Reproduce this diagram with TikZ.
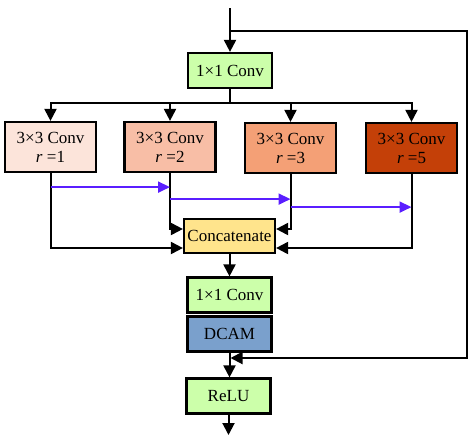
\documentclass[tikz,border=0pt]{standalone}
\usepackage{fontspec}
\setmainfont{Liberation Serif}
\usetikzlibrary{shapes, arrows.meta, positioning}
\definecolor{convgreen}{RGB}{204,255,170}
\definecolor{rateA}{RGB}{252,228,218}
\definecolor{rateB}{RGB}{248,190,166}
\definecolor{rateC}{RGB}{244,160,118}
\definecolor{rateD}{RGB}{196,64,8}
\definecolor{catyellow}{RGB}{255,228,140}
\definecolor{dcamblue}{RGB}{122,160,204}
\definecolor{skipblue}{RGB}{90,30,255}
\tikzstyle{block} = [rectangle, draw, line width=2.2pt, fill=convgreen,
	text centered, minimum width=84pt, minimum height=35pt, inner sep=0pt]
\tikzstyle{rate} = [block, align=center, minimum width=91pt, minimum height=50pt]
\tikzstyle{arr} = [line width=2pt, -{Triangle[length=12pt,width=12pt]}]
\tikzstyle{skip} = [line width=2pt, draw=skipblue, -{Triangle[length=12pt,width=11pt]}]

\begin{document}
\begin{tikzpicture}[x=1pt, y=1pt, node distance = 2cm, auto,
	font=\fontsize{17}{19}\selectfont]
		\useasboundingbox (0,0) rectangle (474,-445);
		%Place node
		\node [block] (convA) at (230,-70.5) {1×1 Conv};
		\node [rate, fill=rateA] (rateA) at (50.5,-147) {3×3 Conv\\\textit{r} =1};
		\node [rate, fill=rateB] (rateB) at (170,-147) {3×3 Conv\\\textit{r} =2};
		\node [rate, fill=rateC] (rateC) at (290.5,-148) {3×3 Conv\\\textit{r} =3};
		\node [rate, fill=rateD] (rateD) at (411.5,-148) {3×3 Conv\\\textit{r} =5};
		\node [block, fill=catyellow, minimum width=91pt, minimum height=34pt] (cat) at (229.5,-236) {Concatenate};
		\node [block, below of=cat, node distance=59pt] (convB) {1×1 Conv};
		\node [block, fill=dcamblue, below of=convB, node distance=39pt] (dcam) {DCAM};
		\node [block, below of=dcam, node distance=62pt, xshift=-1pt] (relu) {ReLU};
		\coordinate (in) at (230,-8);
		\coordinate (split) at (230,-103);
		\coordinate (fbA) at (467,-31);
		\coordinate (fbB) at (467,-358);
		\coordinate (out) at (229,-435);

		%Draw edges
		\draw [arr] (in) -- (convA);
		\draw [line width=2pt] (convA) -- (split);
		\draw [arr] (split) -| (rateA.north);
		\draw [arr] (split) -| (rateB.north);
		\draw [arr] (split) -| (rateC.north);
		\draw [arr] (split) -| (rateD.north);
		\draw [arr] (in |- fbA) -- (fbA) -- (fbB) -- ([xshift=1pt]dcam.south |- fbB);

		\draw [arr] (rateA.south) |- ([yshift=-12pt]cat.west);
		\draw [arr] (rateB.south) |- ([yshift=7pt]cat.west);
		\draw [arr] (rateC.south) |- ([yshift=7pt]cat.east);
		\draw [arr] (rateD.south) |- ([yshift=-12pt]cat.east);

		\draw [skip] ([yshift=-14pt]rateA.south) -- ([yshift=-14pt]rateB.south);
		\draw [skip] ([yshift=-26pt]rateB.south) -- ([yshift=-26pt]rateB.south -| rateC.south);
		\draw [skip] ([yshift=-33pt]rateC.south) -- ([yshift=-33pt]rateD.south);

		\draw [arr] (cat) -- (convB);
		\draw [arr] (dcam.south) -- (dcam.south |- relu.north);
		\draw [arr] (relu) -- (relu.south |- out);
	\end{tikzpicture}
\end{document}
